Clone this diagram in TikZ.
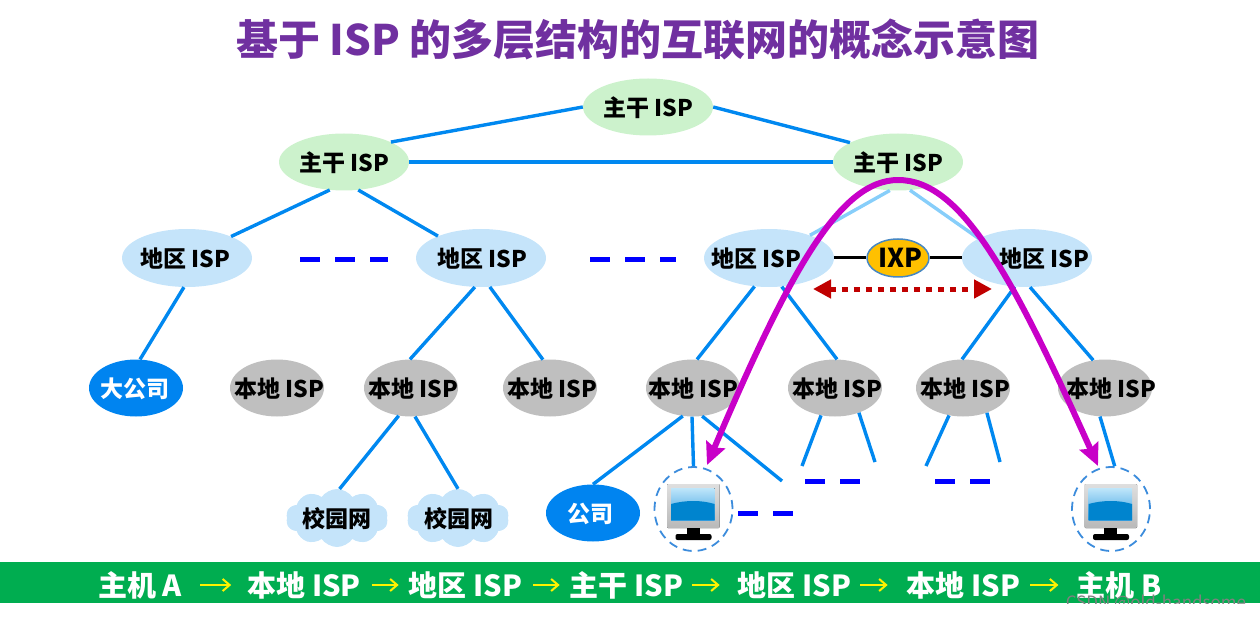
\documentclass[tikz,border=0pt]{standalone}
\usepackage{fontspec}
\setmainfont{Noto Sans CJK SC}
\usetikzlibrary{arrows.meta,shapes.geometric,shapes.symbols}
\definecolor{linkblue}{HTML}{0088F0}
\definecolor{paleblue}{HTML}{87CEFA}
\definecolor{backbone}{HTML}{CCF2CC}
\definecolor{region}{HTML}{C5E4FA}
\definecolor{localisp}{HTML}{BFBFBF}
\definecolor{company}{HTML}{0084F0}
\definecolor{barcolor}{HTML}{00AD50}
\definecolor{routecolor}{HTML}{C800C8}
\definecolor{titlecolor}{HTML}{7030A0}
\definecolor{ixpfill}{HTML}{FFC000}
\definecolor{ixpedge}{HTML}{4687C3}
\definecolor{peercolor}{HTML}{C00000}
\definecolor{hostedge}{HTML}{3C8CDC}
\definecolor{glasstop}{HTML}{BFE6FA}
\definecolor{glassmid}{HTML}{3A9FE0}
\definecolor{glasslow}{HTML}{0084CE}
% label of no width, so the ellipse keeps its size; first argument moves it sideways
\newcommand{\lab}[2][0]{\raisebox{-9.5pt}{\makebox[0pt]{\kern#1pt #2}}}
\tikzset{
	isp/.style={ellipse,inner sep=0pt,text height=0pt,text depth=0pt,font=\fontsize{23}{24}\selectfont\bfseries},
	bbisp/.style={isp,fill=backbone,minimum width=130pt,minimum height=57pt},
	reisp/.style={isp,fill=region,minimum width=130pt,minimum height=58pt},
	loisp/.style={isp,fill=localisp,minimum width=94pt,minimum height=57pt},
	coisp/.style={isp,fill=company,text=white,minimum width=94pt,minimum height=57pt},
	campus/.style={cloud,cloud puffs=10,cloud puff arc=110,cloud ignores aspect,fill=region,inner sep=0pt,
		text height=0pt,text depth=0pt,minimum width=102pt,minimum height=58pt,font=\fontsize{23}{24}\selectfont\bfseries},
	hostnode/.style={ellipse,draw=hostedge,line width=1.8pt,dash pattern=on 9pt off 6pt,minimum width=78pt,minimum height=84pt,inner sep=0pt},
	link/.style={linkblue,line width=3.4pt},
	gap/.style={blue,line width=5pt,dash pattern=on 20pt off 15pt},
	hop/.style={yellow,line width=2pt,-{Straight Barb[length=7pt,width=12pt]}},
	stage/.style={text=white,inner sep=0pt,font=\fontsize{29}{30}\selectfont\bfseries},
	pics/screen/.style={code={
		\fill[top color=gray!25,bottom color=gray!55,rounded corners=1pt] (-26.5,-25) rectangle (26,19);
		\fill[top color=glasstop,bottom color=glassmid] (-22.5,-21) rectangle (21,11);
		\fill[glasslow] (-22.5,-5) .. controls (-8,-9) and (8,-9) .. (21,-5) -- (21,11) -- (-22.5,11) -- cycle;
		\fill[black] (-7,19) rectangle (6,25);
		\fill[black,rounded corners=2pt] (-18,25) rectangle (18,31);
	}}
}
\begin{document}
\begin{tikzpicture}[x=1pt,y=-1pt,line join=round]
	\useasboundingbox (0,0) rectangle (1260,620);
	\fill[barcolor] (0,562) rectangle (1260,603);
	\node[text=titlecolor,inner sep=0pt,font=\fontsize{42}{44}\selectfont\bfseries] (title) at (638,39) {基于 ISP 的多层结构的互联网的概念示意图};
	% backbone and regional
	\node[bbisp] (bb0) at (648,107) {\lab{主干 ISP}};
	\node[bbisp] (bb1) at (344,162) {\lab{主干 ISP}};
	\node[bbisp] (bb2) at (898,162) {\lab{主干 ISP}};
	\foreach \n/\x/\d in {re1/187/-4,re2/481/2,re3/769/-26,re4/1027/34}
	\node[reisp] (\n) at (\x,258) {\lab[\d]{地区 ISP}};
	\node[isp,fill=ixpfill,draw=ixpedge,line width=1.5pt,minimum width=62pt,minimum height=38pt,font=\fontsize{26}{28}\selectfont\bfseries] (ixp) at (898,258) {\lab[5]{IXP}};
	% local row
	\node[coisp] (co1) at (136,388) {\lab[-2]{大公司}};
	\foreach \n/\x/\d in {lo1/277/4,lo2/411/4,lo3/550/4,lo4/693/0,lo5/835/4,lo6/963/4,lo7/1105/12}
	\node[loisp] (\n) at (\x,388) {\lab[\d]{本地 ISP}};
	\node[campus] (cl1) at (337,518) {\lab{校园网}};
	\node[campus] (cl2) at (458,518) {\lab[2]{校园网}};
	\node[coisp] (co2) at (593,513) {\lab[-6]{公司}};
	\node[hostnode] (hostA) at (693.5,509) {};
	\node[hostnode] (hostB) at (1111,509) {};
	\pic at (693.5,509) {screen};
	\pic at (1111,509) {screen};
	\coordinate (endA) at (782,481);
	\coordinate (endB) at (802,466);
	\coordinate (endC) at (875,462);
	\coordinate (endD) at (926,466);
	\coordinate (endE) at (1000,462);
	\foreach \p/\q in {bb0.west/bb1.23,bb0.east/bb2.158,bb1.east/bb2.west,bb1.-117/re1.26,bb1.-63/re2.153,
		re1.-96/co1.82,re2.-102/lo2.92,re2.-73/lo3.104,re3.-117/lo4.82,re3.-66/lo5.86,re4.-113/lo6.92,re4.-84/lo7.113,
		lo2.-114/cl1.85,lo2.-82/cl2.north,lo4.-110/co2.north,lo4.-92/hostA.north,lo4.-72/endA,
		lo5.-117/endB,lo5.-46/endC,lo6.-117/endD,lo6.-46/endE,lo7.-100/hostB.85}
	\draw[link] (\p)--(\q);
	\draw[paleblue,line width=3.4pt] (bb2.-106)--(re3.29) (bb2.-67)--(re4.158);
	\draw[black,line width=3pt] (re3.east)--(ixp.west) (ixp.east)--(re4.west);
	\coordinate (peerL) at (813,289);
	\coordinate (peerR) at (992,289);
	\draw[peercolor,line width=5pt,dash pattern=on 6pt off 6pt,{Triangle[length=18pt,width=18pt]}-{Triangle[length=18pt,width=18pt]}] (peerL)--(peerR);
	% dashes
	\foreach \a/\b/\y in {300/388/260,590/676/260} \draw[gap] (\a,\y)--(\b,\y);
	\foreach \a/\y in {805/481,935/481,738/513} \draw[gap] (\a,\y)--(\a+55,\y);
	% route
	\coordinate (srcA) at (707,465);
	\coordinate (dstB) at (1098,466);
	\draw[routecolor,line width=6pt,{Stealth[length=22pt,width=20pt,inset=3pt]}-{Stealth[length=22pt,width=20pt,inset=3pt]}] (srcA) .. controls (790,270) and (840,180) .. (898,180) .. controls (960,180) and (1010,270) .. (dstB);
	% bottom bar
	\foreach \n/\x/\t in {st1/140/主机 A,st2/304/本地 ISP,st3/465.5/地区 ISP,st4/626.5/主干 ISP,st5/794.5/地区 ISP,st6/963.5/本地 ISP,st7/1119/主机 B}
	\node[stage] (\n) at (\x,585) {\t};
	\foreach \p/\q/\s/\e in {st1/st2/18/16,st2/st3/11/10,st3/st4/11/10,st4/st5/9/18,st5/st6/9/19,st6/st7/10/18}
	\draw[hop,shorten <=\s pt,shorten >=\e pt] (\p.east|-0,585)--(\q.west|-0,585);
	\begin{scope}
		\clip (0,562) rectangle (1260,603);
		\node[text=gray,inner sep=0pt,font=\fontsize{17}{18}\selectfont] (mark) at (1156,603) {CSDN @old-handsome};
	\end{scope}
\end{tikzpicture}
\end{document}
